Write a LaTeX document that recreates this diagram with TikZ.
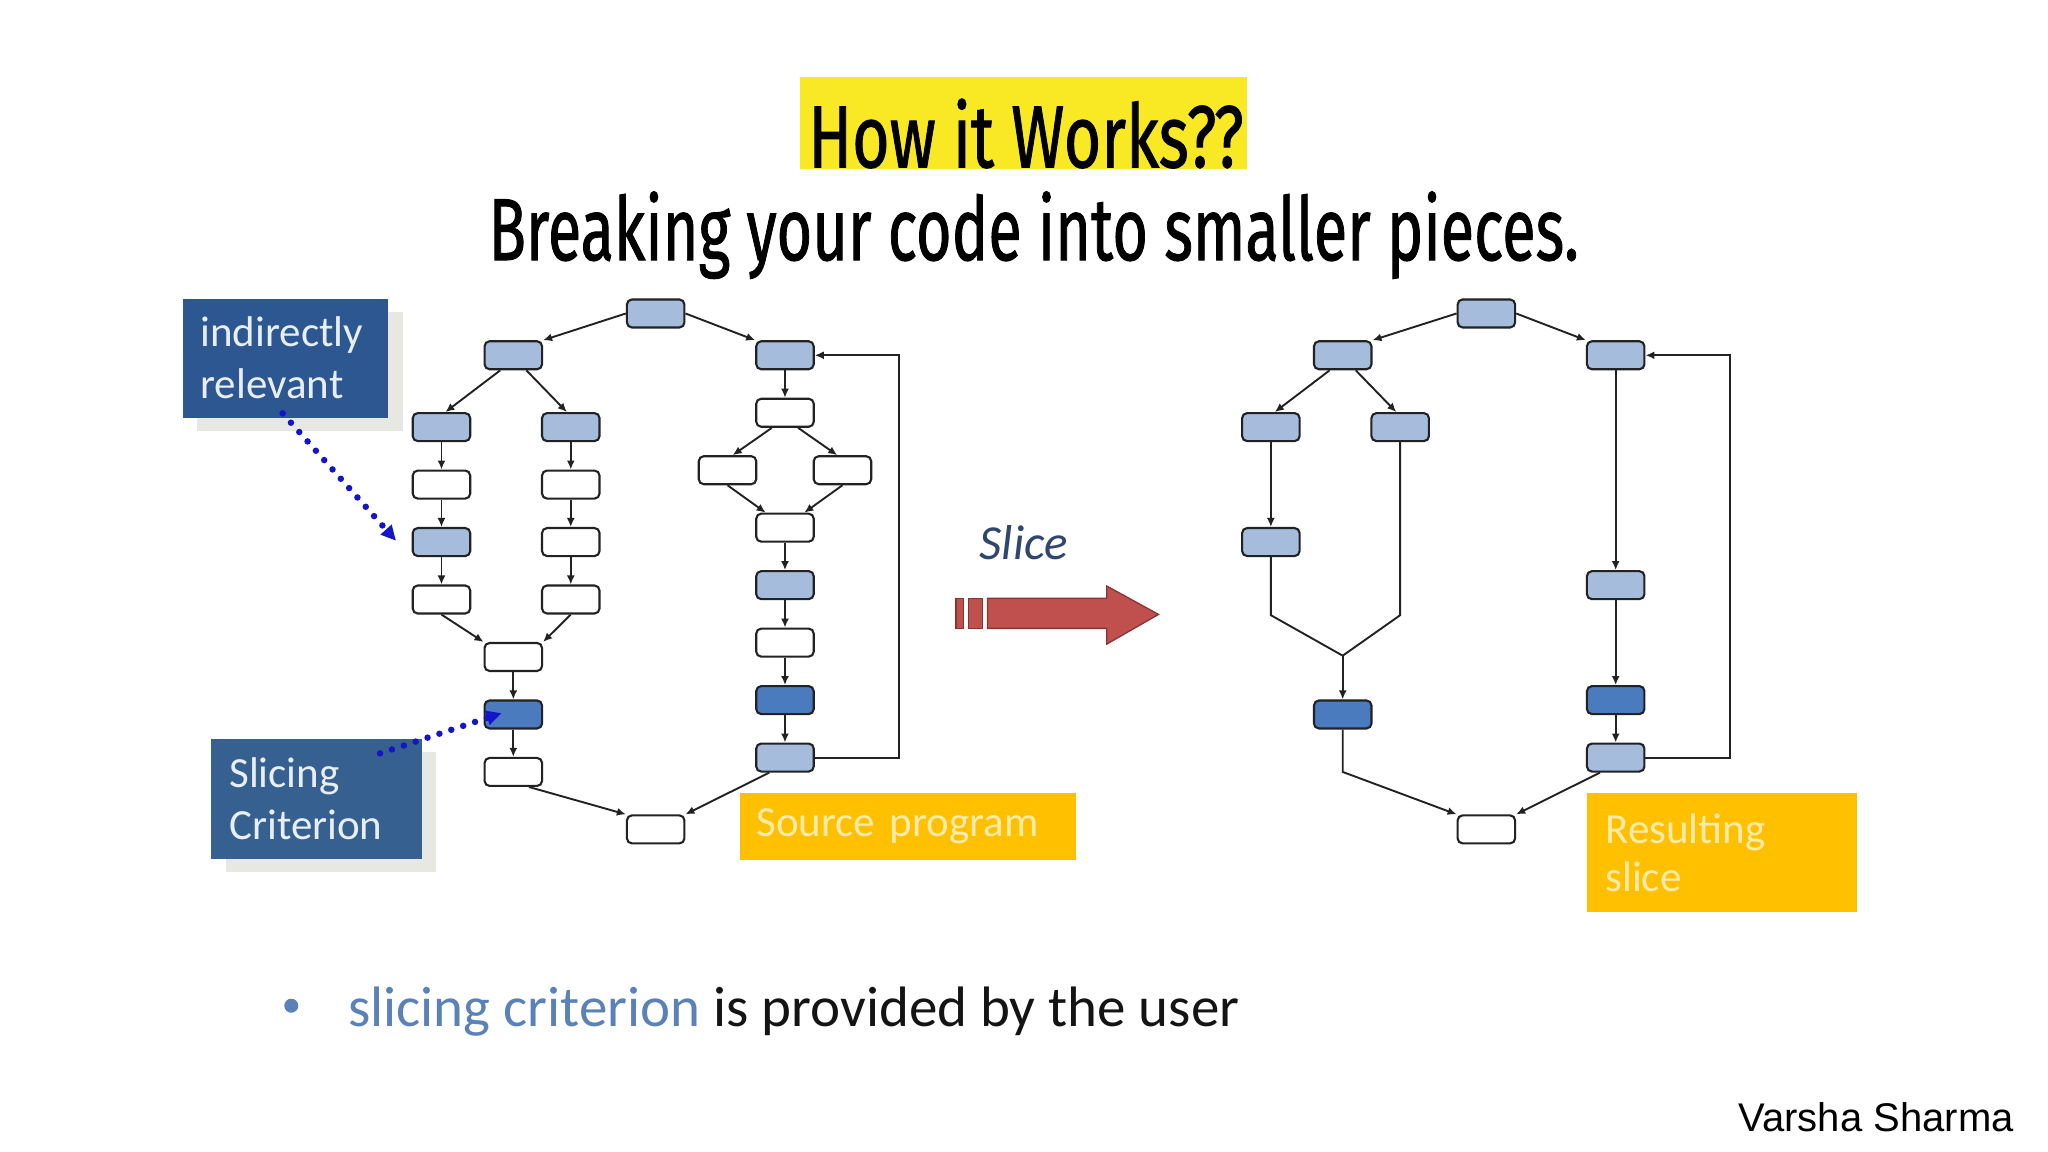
\documentclass[tikz,border=0pt]{standalone}
\usepackage{fontspec}
\usepackage{graphicx}
\usetikzlibrary{arrows.meta,calc,shadows}
\setmainfont{Carlito}
\newfontfamily\titlefont{Fira Sans}[FakeBold=1.2]
\newfontfamily\arialfont{Liberation Sans}
\definecolor{nlight}{HTML}{A5BCDC}
\definecolor{ndark}{HTML}{4A7BBE}
\definecolor{nborder}{HTML}{222222}
\definecolor{edgecol}{HTML}{222222}
\definecolor{lblblue}{HTML}{2C5791}
\definecolor{lblblueb}{HTML}{36608F}
\definecolor{shadowgray}{HTML}{E8E8E2}
\definecolor{lbltext}{HTML}{E8EEF6}
\definecolor{orangebox}{HTML}{FFC000}
\definecolor{orangetext}{HTML}{FCEBAA}
\definecolor{hlyellow}{HTML}{F8E924}
\definecolor{slicecol}{HTML}{2F4670}
\definecolor{arrowred}{HTML}{C0504D}
\definecolor{arrowredborder}{HTML}{8A3432}
\definecolor{dotblue}{HTML}{1414C8}
\definecolor{bulletblue}{HTML}{5A82B8}
\tikzset{
  gnode/.style={draw=nborder, line width=2.1pt, rounded corners=5pt, minimum width=57.5pt, minimum height=28pt, inner sep=0pt},
  lightnode/.style={gnode, fill=nlight},
  darknode/.style={gnode, fill=ndark},
  whitenode/.style={gnode, fill=white},
  edge/.style={draw=edgecol, line width=1.9pt, -{Latex[length=9pt,width=8pt]}},
  plainedge/.style={draw=edgecol, line width=1.9pt},
  dotarrow/.style={draw=dotblue, line width=6.5pt, line cap=round, dash pattern=on 0pt off 12.5pt, -{Triangle[length=15pt,width=14pt,fill=dotblue]}},
  lblbox/.style={anchor=north west, inner xsep=18pt, inner ysep=0pt, align=left, text=lbltext, font=\fontsize{43pt}{52pt}\selectfont, drop shadow={shadow xshift=14.4pt, shadow yshift=-13pt, fill=shadowgray, opacity=1}},
  orangelbl/.style={anchor=north west, fill=orangebox, inner ysep=0pt, align=left, text=orangetext, font=\fontsize{43pt}{52pt}\selectfont}
}
\begin{document}
\begin{tikzpicture}[x=1.306pt,y=-1.306pt]
\useasboundingbox (0,0) rectangle (1568,882);
\fill[white] (0,0) rectangle (1568,882);

% title
\fill[hlyellow] (612.6,59.2) rectangle (954.6,129.7);
\node[anchor=base, inner sep=0pt] (title) at (785.5,128.1) {\resizebox{435pt}{\height}{\titlefont\fontsize{88pt}{90pt}\selectfont How it Works??}};
\node[anchor=base, inner sep=0pt] (subtitle) at (791.5,199.1) {\resizebox{1090pt}{\height}{\titlefont\fontsize{88pt}{90pt}\selectfont Breaking your code into smaller pieces.}};

% ---------- left graph (source program)
\node[lightnode] (aT) at (502,240) {};
\node[lightnode] (aL) at (393,272) {};
\node[lightnode] (aR) at (601,272) {};
\node[lightnode] (aLL1) at (338,327) {};
\node[lightnode] (aLR1) at (437,327) {};
\node[whitenode] (aLL2) at (338,371) {};
\node[whitenode] (aLR2) at (437,371) {};
\node[lightnode] (aLL3) at (338,415) {};
\node[whitenode] (aLR3) at (437,415) {};
\node[whitenode] (aLL4) at (338,459) {};
\node[whitenode] (aLR4) at (437,459) {};
\node[whitenode] (aM1) at (393,503) {};
\node[darknode] (aM2) at (393,547) {};
\node[whitenode] (aM3) at (393,591) {};
\node[whitenode] (aB) at (502,635) {};
\node[whitenode] (aR2) at (601,316) {};
\node[whitenode] (aR3a) at (557,360) {};
\node[whitenode] (aR3b) at (645,360) {};
\node[whitenode] (aR4) at (601,404) {};
\node[lightnode] (aR5) at (601,448) {};
\node[whitenode] (aR6) at (601,492) {};
\node[darknode] (aR7) at (601,536) {};
\node[lightnode] (aR8) at (601,580) {};

\draw[edge] (aT.west) -- (aL.north east);
\draw[edge] (aT.east) -- (aR.north west);
\draw[edge] ($(aL.south)+(-10,0)$) -- ($(aLL1.north)+(3,0)$);
\draw[edge] ($(aL.south)+(10,0)$) -- ($(aLR1.north)+(-3,0)$);
\draw[edge] (aLL1) -- (aLL2);
\draw[edge] (aLL2) -- (aLL3);
\draw[edge] (aLL3) -- (aLL4);
\draw[edge] (aLR1) -- (aLR2);
\draw[edge] (aLR2) -- (aLR3);
\draw[edge] (aLR3) -- (aLR4);
\draw[edge] (aLL4.south) -- (aM1.north west);
\draw[edge] (aLR4.south) -- (aM1.north east);
\draw[edge] (aM1) -- (aM2);
\draw[edge] (aM2) -- (aM3);
\draw[edge] ($(aM3.south)+(12,0)$) -- (aB.north west);
\draw[edge] ($(aR8.south)+(-12,0)$) -- (aB.north east);
\draw[edge] (aR) -- (aR2);
\draw[edge] ($(aR2.south)+(-10,0)$) -- ($(aR3a.north)+(4,0)$);
\draw[edge] ($(aR2.south)+(10,0)$) -- ($(aR3b.north)+(-4,0)$);
\draw[edge] (aR3a.south) -- ($(aR4.north west)+(8,0)$);
\draw[edge] (aR3b.south) -- ($(aR4.north east)+(-8,0)$);
\draw[edge] (aR4) -- (aR5);
\draw[edge] (aR5) -- (aR6);
\draw[edge] (aR6) -- (aR7);
\draw[edge] (aR7) -- (aR8);
\draw[edge] (aR8.east) -- ++(64.5,0) |- (aR.east);

% ---------- right graph (resulting slice)
\node[lightnode] (bT) at (1138,240) {};
\node[lightnode] (bL) at (1028,272) {};
\node[lightnode] (bR) at (1237,272) {};
\node[lightnode] (bLL1) at (973,327) {};
\node[lightnode] (bLR1) at (1072,327) {};
\node[lightnode] (bLL3) at (973,415) {};
\node[darknode] (bD) at (1028,547) {};
\node[whitenode] (bB) at (1138,635) {};
\node[lightnode] (bR5) at (1237,448) {};
\node[darknode] (bR7) at (1237,536) {};
\node[lightnode] (bR8) at (1237,580) {};
\coordinate (bV1) at (973,471);
\coordinate (bV2) at (1072,471);
\coordinate (bJ) at (1028,502);
\coordinate (bE) at (1028,591);

\draw[edge] (bT.west) -- (bL.north east);
\draw[edge] (bT.east) -- (bR.north west);
\draw[edge] ($(bL.south)+(-10,0)$) -- ($(bLL1.north)+(3,0)$);
\draw[edge] ($(bL.south)+(10,0)$) -- ($(bLR1.north)+(-3,0)$);
\draw[edge] (bLL1) -- (bLL3);
\draw[plainedge] (bLL3.south) -- (bV1) -- (bJ);
\draw[plainedge] (bLR1.south) -- (bV2) -- (bJ);
\draw[edge] (bJ) -- (bD.north);
\draw[edge] (bD.south) -- (bE) -- (bB.north west);
\draw[edge] (bR) -- (bR5);
\draw[edge] (bR5) -- (bR7);
\draw[edge] (bR7) -- (bR8);
\draw[edge] ($(bR8.south)+(-12,0)$) -- (bB.north east);
\draw[edge] (bR8.east) -- ++(64.5,0) |- (bR.east);

% ---------- labels
\node[lblbox, fill=lblblue, minimum width=205.6pt, minimum height=119pt, text width=169.6pt] (ir) at (139.6,228.4) {indirectly\\relevant};
\node[lblbox, fill=lblblueb, minimum width=210.7pt, minimum height=119.2pt, text width=174.7pt] (sc) at (161.6,565.9) {Slicing\\Criterion};
\node[orangelbl, inner xsep=16.7pt, minimum width=336.3pt, minimum height=67.3pt, text width=302.9pt] (sp) at (566.1,607) {Source program};
\node[orangelbl, inner xsep=18.3pt, minimum width=270.3pt, minimum height=118.8pt, text width=233.7pt, font=\fontsize{43pt}{48pt}\selectfont] (rs) at (1215,607) {Resulting\\slice};

% dotted pointers
\coordinate (d1s) at (216.4,316.5);
\coordinate (d2s) at (291,576.8);
\draw[dotarrow] (d1s) -- ($(aLL3.west)+(-12,-1)$);
\draw[dotarrow] (d2s) -- ($(aM2.center)+(-9,-1)$);

% slice arrow
\node[anchor=base west, inner sep=0pt, text=slicecol, font=\fontsize{49pt}{52pt}\selectfont\itshape] (slice) at (749.9,428.3) {Slice};
\begin{scope}[fill=arrowred, draw=arrowredborder, line width=1.3pt]
\filldraw (732,458.1) rectangle (737.6,481.1);
\filldraw (741.4,458.1) rectangle (752.2,481.1);
\filldraw (756,458.1) -- (847.4,458.1) -- (847.4,448.7) -- (887,470.4) -- (847.4,493.1) -- (847.4,481.1) -- (756,481.1) -- cycle;
\end{scope}

% bullet
\node[circle, fill=bulletblue, inner sep=0pt, minimum size=14pt] (bullet) at (223,770) {};
\node[anchor=base west, inner sep=0pt, font=\fontsize{57pt}{60pt}\selectfont, text=black!92] (btext) at (266.5,786) {\textcolor{bulletblue}{slicing criterion} is provided by the user};

% author
\node[anchor=base west, inner sep=0pt, font=\arialfont\fontsize{40pt}{43pt}\selectfont] (author) at (1331,866.5) {Varsha Sharma};
\end{tikzpicture}
\end{document}
